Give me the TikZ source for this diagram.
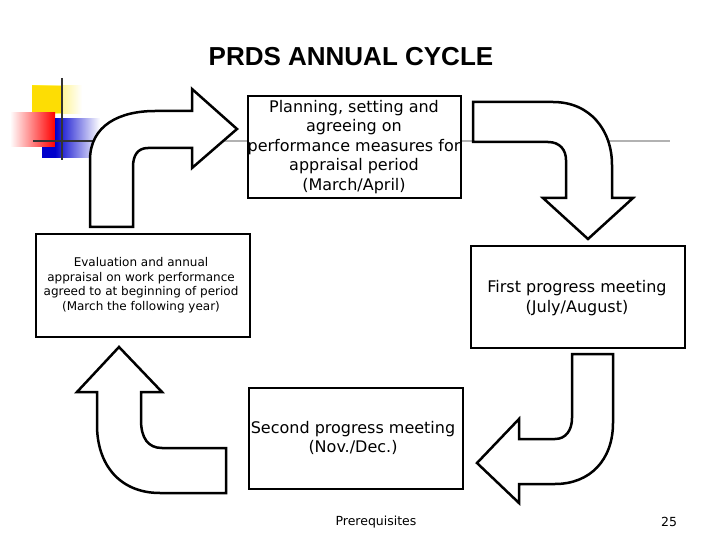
\documentclass[tikz,border=0pt]{standalone}
\usepackage{fontspec}
\setmainfont{DejaVu Sans}
\newfontfamily\titlefont{Liberation Sans}
\begin{document}
\begin{tikzpicture}[x=1pt,y=-1pt,
  box/.style={draw,line width=2pt,inner sep=0pt},
  arr/.style={draw,line width=2.5pt,fill=white,line join=miter},
  txt/.style={align=center,font=\fontsize{16}{19.5}\selectfont}]
\useasboundingbox (0,0) rectangle (720,540);
% decoration
\shade[left color=yellow!80!orange,right color=white] (32,86) rectangle (82,114);
\fill[yellow!80!orange] (32,86) rectangle (62,113);
\shade[left color=white,right color=red] (10,113) rectangle (55,147);
\shade[left color=blue!80!black,middle color=blue!80!black,right color=white] (55,119) rectangle (100,158);
\fill[blue!80!black] (42,147) rectangle (56,158);
\draw[gray!60,line width=2pt] (97,141) -- (670,141);
\draw[black!80,line width=2.5pt] (33,141) -- (97,141);
\draw[black!80,line width=2.5pt] (62,78) -- (62,160);
% title
\node[font=\titlefont\bfseries\fontsize{26}{30}\selectfont] (title) at (351,57) {PRDS ANNUAL CYCLE};
% boxes
\draw[box,fill=white] (248,96) rectangle (461,198);
\node[txt] (plan) at (354,147) {Planning, setting and\\agreeing on\\performance measures for\\appraisal period\\(March/April)};
\draw[box] (36,234) rectangle (250,337);
\node[align=center,font=\fontsize{12}{14.5}\selectfont] (eval) at (141,285) {Evaluation and annual\\appraisal on work performance\\agreed to at beginning of period\\(March the following year)};
\draw[box] (471,246) rectangle (685,348);
\node[txt] (first) at (577,298) {First progress meeting\\(July/August)};
\draw[box] (249,388) rectangle (463,489);
\node[txt] (second) at (353,438) {Second progress meeting\\(Nov./Dec.)};
% arrows
\path[arr] (90,227) -- (90,160) .. controls (90,125) and (120,111) .. (155,111) -- (192,111) -- (192,89) -- (237,129) -- (192,168) -- (192,148) -- (148,148) .. controls (138,148) and (133,155) .. (133,167) -- (133,227) -- cycle;
\path[arr] (473,102) -- (553,102) .. controls (590,102) and (612,130) .. (612,165) -- (612,198) -- (633,198) -- (588,239) -- (543,198) -- (566,198) -- (566,160) .. controls (566,150) and (560,142) .. (548,142) -- (473,142) -- cycle;
\path[arr] (613,354) -- (613,423) .. controls (613,460) and (590,484) .. (555,484) -- (519,484) -- (519,503) -- (477,463) -- (519,419) -- (519,439) -- (555,439) .. controls (566,439) and (572,430) .. (572,418) -- (572,354) -- cycle;
\path[arr] (226,493) -- (160,493) .. controls (120,493) and (97,465) .. (97,425) -- (97,392) -- (77,392) -- (119,347) -- (162,392) -- (141,392) -- (141,420) .. controls (141,438) and (148,448) .. (162,448) -- (226,448) -- cycle;
% footer
\node[font=\fontsize{12.5}{14}\selectfont] (prereq) at (376,522) {Prerequisites};
\node[font=\fontsize{12.5}{14}\selectfont] (page) at (669,522) {25};
\end{tikzpicture}
\end{document}
